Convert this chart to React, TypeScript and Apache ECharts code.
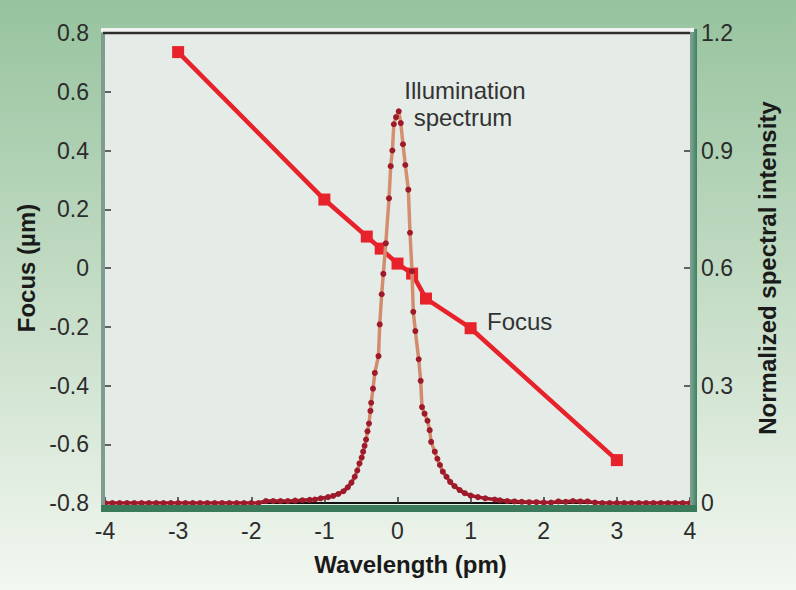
import React, { useEffect, useRef } from "react";
import * as echarts from "echarts";

const xTicks = [-4, -3, -2, -1, 0, 1, 2, 3, 4];
const focusWavelength = [-3, -1, -0.42, -0.23, 0, 0.2, 0.39, 1, 3];
const focusValues = [0.735, 0.233, 0.107, 0.066, 0.015, -0.019, -0.104, -0.205, -0.654];

const spectrumWavelength = [
  -4.0, -3.9, -3.8, -3.7, -3.6, -3.5, -3.4, -3.3, -3.2, -3.1, -3.0, -2.9, -2.8, -2.7, -2.6, -2.5,
  -2.4, -2.3, -2.2, -2.1, -2.0, -1.9, -1.8, -1.7, -1.6, -1.5, -1.4, -1.3, -1.2, -1.13, -1.05,
  -0.95, -0.88, -0.81, -0.74, -0.68, -0.63, -0.585, -0.55, -0.52, -0.49, -0.47, -0.45, -0.43,
  -0.41, -0.39, -0.37, -0.36, -0.335, -0.31, -0.26, -0.243, -0.216, -0.194, -0.16, -0.116,
  -0.093, -0.07, -0.05, -0.02, 0.017, 0.045, 0.075, 0.107, 0.148, 0.171, 0.198, 0.216, 0.244,
  0.29, 0.317, 0.335, 0.37, 0.41, 0.44, 0.46, 0.51, 0.545, 0.58, 0.62, 0.67, 0.72, 0.78, 0.85,
  0.92, 1.0, 1.1, 1.2, 1.33, 1.4, 1.5, 1.6, 1.7, 1.8, 1.9, 2.0, 2.1, 2.2, 2.3, 2.4, 2.5, 2.6,
  2.7, 2.8, 2.9, 3.0, 3.1, 3.2, 3.3, 3.4, 3.5, 3.6, 3.7, 3.8, 3.9, 4.0,
];
const spectrumIntensity = [
  0, 0, 0, 0, 0, 0, 0, 0, 0, 0, 0, 0, 0, 0, 0, 0,
  0, 0, 0, 0, 0, 0, 0.005, 0.005, 0.005, 0.005, 0.006, 0.007, 0.008, 0.009, 0.012,
  0.015, 0.018, 0.023, 0.03, 0.04, 0.052, 0.067, 0.083, 0.101, 0.116, 0.131, 0.146, 0.162,
  0.183, 0.203, 0.235, 0.256, 0.292, 0.332, 0.375, 0.456, 0.533, 0.585, 0.663, 0.778,
  0.86, 0.9, 0.967, 0.985, 1.0, 0.97, 0.916, 0.863, 0.8, 0.69, 0.592, 0.488, 0.439,
  0.367, 0.312, 0.245, 0.228, 0.21, 0.186, 0.156, 0.131, 0.113, 0.097, 0.08, 0.067, 0.054, 0.043, 0.033,
  0.025, 0.019, 0.015, 0.012, 0.009, 0.007, 0.005, 0.004, 0.003, 0.002, 0.002, 0.001, 0.001, 0.004, 0.003, 0.005, 0.004, 0.004,
  0.001, 0, 0, 0, 0, 0, 0, 0, 0, 0, 0, 0, 0, 0,
];

const FONT = "'Liberation Sans', Arial, Helvetica, sans-serif";

export default function App() {
  const ref = useRef<HTMLDivElement>(null);
  useEffect(() => {
    if (!ref.current) return;
    const chart = echarts.init(ref.current, null, { renderer: "svg" });
    const L = 105, R = 690, T = 33, B = 503;
    const nameStyle = { fontFamily: FONT, fontSize: 24, fontWeight: "bold", color: "#1a1a1a" };
    const labelStyle = { fontFamily: FONT, fontSize: 23, color: "#2c2c2c" };
    chart.setOption({
      animation: false,
      backgroundColor: new echarts.graphic.LinearGradient(0, 0, 0, 1, [
        { offset: 0, color: "#97c39e" },
        { offset: 0.45, color: "#c0dac2" },
        { offset: 1, color: "#f3f7f1" },
      ]),
      grid: {
        left: L, right: 796 - R, top: T, bottom: 590 - B,
        show: true, backgroundColor: "#e5ebe7", borderWidth: 0,
      },
      xAxis: {
        type: "value", min: -4, max: 4, interval: 1,
        name: "Wavelength (pm)", nameLocation: "middle", nameGap: 49,
        nameTextStyle: { ...nameStyle, padding: [0, 0, 0, 26] },
        axisLine: { show: true, onZero: false, lineStyle: { color: "#111", width: 2 } },
        axisTick: { show: true, inside: true, length: 6, lineStyle: { color: "#333", width: 1.5 } },
        axisLabel: { ...labelStyle, margin: 16,
          formatter: (v: number) => (xTicks.includes(v) ? String(v) : "") },
        splitLine: { show: false },
      },
      yAxis: [
        {
          type: "value", min: -0.8, max: 0.8, interval: 0.2, position: "left",
          name: "Focus (µm)", nameLocation: "middle", nameGap: 66, nameRotate: 90,
          nameTextStyle: nameStyle,
          axisLine: { show: false, onZero: false },
          axisTick: { show: true, inside: true, length: 6, lineStyle: { color: "#333", width: 1.5 } },
          axisLabel: { ...labelStyle, margin: 16 },
          splitLine: { show: false },
        },
        {
          type: "value", min: 0, max: 1.2, interval: 0.3, position: "right",
          name: "Normalized spectral intensity", nameLocation: "middle", nameGap: 65, nameRotate: 90,
          nameTextStyle: nameStyle,
          axisLine: { show: false, onZero: false },
          axisTick: { show: true, inside: true, length: 6, lineStyle: { color: "#333", width: 1.5 } },
          axisLabel: { ...labelStyle, margin: 11 },
          splitLine: { show: false },
        },
      ],
      series: [
        {
          type: "line", name: "Focus", yAxisIndex: 0, z: 3,
          data: focusWavelength.map((x, i) => [x, focusValues[i]]),
          symbol: "rect", symbolSize: 12,
          lineStyle: { color: "#e8222b", width: 4.5 },
          itemStyle: { color: "#e8222b" },
        },
        {
          type: "line", name: "Illumination spectrum", yAxisIndex: 1, z: 4,
          data: spectrumWavelength.map((x, i) => [x, spectrumIntensity[i]]),
          symbol: "circle", symbolSize: 6,
          lineStyle: {
            width: 3.5,
            color: new echarts.graphic.LinearGradient(0, 0, 0, 1, [
              { offset: 0, color: "#d4906f" },
              { offset: 0.9, color: "#d08a6c" },
              { offset: 0.96, color: "#9e1a2a" },
              { offset: 1, color: "#9e1a2a" },
            ]),
          },
          itemStyle: { color: "#9e1a2a" },
        },
      ],
      graphic: [
        { type: "rect", z: 10, shape: { x: L - 4, y: T, width: 4, height: B - T + 6 }, style: { fill: "#7f9c90" } },
        { type: "rect", z: 10, shape: { x: R, y: T - 4, width: 7, height: B - T + 10 },
          style: { fill: new echarts.graphic.LinearGradient(0, 0, 1, 0, [
            { offset: 0, color: "#8a9890" }, { offset: 0.3, color: "#6ea089" }, { offset: 1, color: "#3f7f60" },
          ]) } },
        { type: "rect", z: 10, shape: { x: L - 4, y: B + 2, width: R - L + 11, height: 7 }, style: { fill: "#3a7a5b" } },
        { type: "rect", z: 10, shape: { x: L - 4, y: T - 5, width: R - L + 8, height: 4 }, style: { fill: "#f0f3f1" } },
        { type: "line", z: 10, shape: { x1: L - 2, y1: T, x2: R, y2: T }, style: { stroke: "#2e2e2e", lineWidth: 2.5 } },
        { type: "text", z: 20, x: 465, y: 90, style: { text: "Illumination", font: `24px ${FONT}`, fill: "#333", align: "center", verticalAlign: "middle" } },
        { type: "text", z: 20, x: 463, y: 117, style: { text: "spectrum", font: `24px ${FONT}`, fill: "#333", align: "center", verticalAlign: "middle" } },
        { type: "text", z: 20, x: 487, y: 321, style: { text: "Focus", font: `24px ${FONT}`, fill: "#333", align: "left", verticalAlign: "middle" } },
      ],
    });
    return () => chart.dispose();
  }, []);
  return <div ref={ref} style={{ position: "fixed", left: 0, top: 0, width: 796, height: 590 }} />;
}
